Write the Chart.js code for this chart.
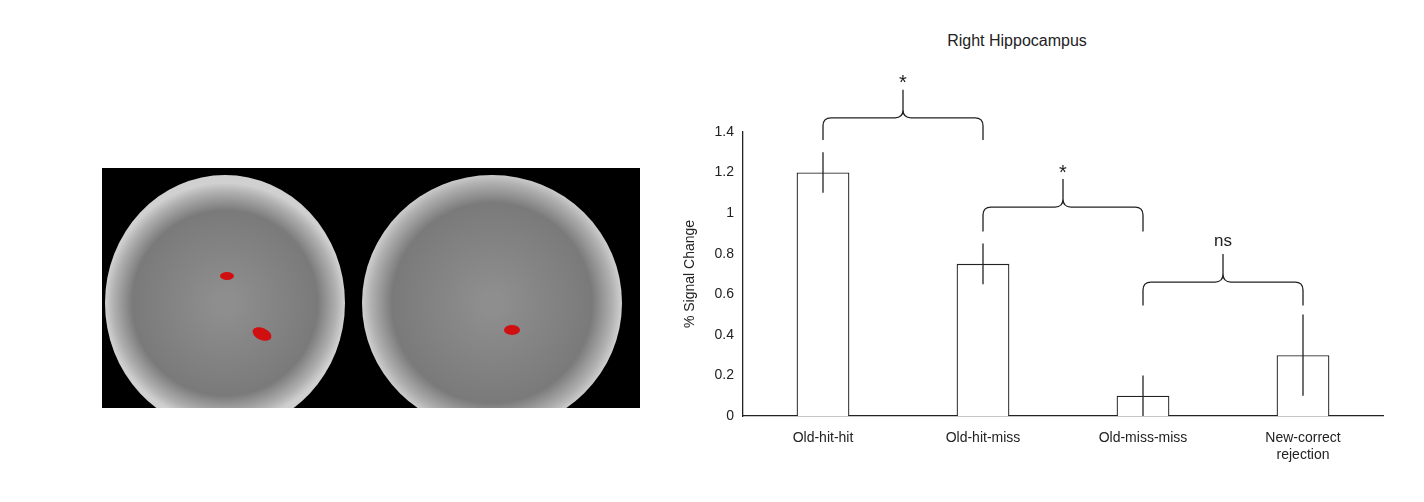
<!DOCTYPE html>
<html>
<head>
<meta charset="utf-8">
<script src="https://cdn.jsdelivr.net/npm/chart.js@4/dist/chart.umd.min.js"></script>
<style>
  body{margin:0;background:#fff;width:1424px;height:502px;position:relative;overflow:hidden;font-family:"Liberation Sans",Arial,sans-serif;}
  #brain{position:absolute;left:102px;top:168px;width:538px;height:240px;background:#000;}
  #title{position:absolute;left:0;width:2034px;top:32px;text-align:center;font-size:16px;color:#222;}
  #wrap{position:absolute;left:670px;top:0;width:720px;height:480px;}
</style>
</head>
<body>
<canvas id="brain" width="538" height="240"></canvas>
<div id="title">Right Hippocampus</div>
<div id="wrap"><canvas id="chart"></canvas></div>
<script>
const categories = [['Old-hit-hit'], ['Old-hit-miss'], ['Old-miss-miss'], ['New-correct', 'rejection']];
const values  = [1.2, 0.75, 0.1, 0.3];
const errLow  = [1.1, 0.65, 0.0, 0.1];
const errHigh = [1.3, 0.85, 0.2, 0.5];
// brackets: from bar, to bar, bar level, tip level, label
const brFrom  = [0, 1, 2];
const brTo    = [1, 2, 3];
const brLevel = [1.47, 1.03, 0.66];
const brTip   = [1.36, 0.91, 0.545];
const brText  = ['*', '*', 'ns'];

// brain slices placeholder
(function(){
  const c = document.getElementById('brain').getContext('2d');
  function slice(cx, cy, rx, ry){
    const g = c.createRadialGradient(cx, cy, 10, cx, cy, rx);
    g.addColorStop(0, '#8e8e8e'); g.addColorStop(0.75, '#7a7a7a'); g.addColorStop(0.92, '#b0b0b0'); g.addColorStop(1, '#d0d0d0');
    c.fillStyle = g;
    c.beginPath(); c.ellipse(cx, cy, rx, ry, 0, 0, Math.PI*2); c.fill();
  }
  slice(123, 135, 120, 128);
  slice(390, 135, 130, 128);
  c.fillStyle = '#d01010';
  c.beginPath(); c.ellipse(160, 166, 10, 6, 0.4, 0, Math.PI*2); c.fill();
  c.beginPath(); c.ellipse(125, 108, 7, 4, 0, 0, Math.PI*2); c.fill();
  c.beginPath(); c.ellipse(410, 162, 8, 5, 0, 0, Math.PI*2); c.fill();
})();

const extras = {
  id: 'extras',
  afterDatasetsDraw(chart){
    const {ctx, scales:{x, y}} = chart;
    ctx.save();
    ctx.strokeStyle = '#222'; ctx.lineWidth = 1.3;
    values.forEach((v, i) => {
      const px = x.getPixelForValue(i);
      ctx.beginPath(); ctx.moveTo(px, y.getPixelForValue(errLow[i])); ctx.lineTo(px, y.getPixelForValue(errHigh[i])); ctx.stroke();
    });
    brFrom.forEach((f, i) => {
      const x1 = x.getPixelForValue(f), x2 = x.getPixelForValue(brTo[i]);
      const yl = y.getPixelForValue(brLevel[i]), yt = y.getPixelForValue(brTip[i]);
      const xm = (x1 + x2) / 2, r = 8, peak = yl - 28;
      ctx.beginPath();
      ctx.moveTo(x1, yt);
      ctx.lineTo(x1, yl + r);
      ctx.quadraticCurveTo(x1, yl, x1 + r, yl);
      ctx.lineTo(xm - r, yl);
      ctx.quadraticCurveTo(xm, yl, xm, yl - r);
      ctx.lineTo(xm, peak);
      ctx.moveTo(xm, yl - r);
      ctx.quadraticCurveTo(xm, yl, xm + r, yl);
      ctx.lineTo(x2 - r, yl);
      ctx.quadraticCurveTo(x2, yl, x2, yl + r);
      ctx.lineTo(x2, yt);
      ctx.stroke();
      ctx.fillStyle = '#222';
      ctx.textAlign = 'center'; ctx.textBaseline = 'bottom';
      ctx.font = brText[i] === '*' ? '20px "Liberation Sans"' : '17px "Liberation Sans"';
      ctx.fillText(brText[i], xm, peak - (brText[i] === '*' ? -4 : 4));
    });
    ctx.restore();
  }
};

new Chart(document.getElementById('chart'), {
  type: 'bar',
  data: { labels: categories, datasets: [{ data: values, backgroundColor: '#fff', borderColor: '#222', borderWidth: 1.3, barPercentage: 0.33, categoryPercentage: 1 }] },
  options: {
    responsive: true, maintainAspectRatio: false, animation: false,
    layout: { padding: { top: 132, right: 7 } },
    plugins: { legend: { display: false }, tooltip: { enabled: false } },
    scales: {
      x: {
        grid: { display: false, drawTicks: false },
        border: { color: '#222', width: 1.3 },
        ticks: { color: '#222', font: { family: 'Liberation Sans', size: 14 }, padding: 14 },
        afterFit: s => { s.height = 64; }
      },
      y: {
        min: 0, max: 1.4,
        grid: { display: false, drawOnChartArea: false, drawTicks: true, tickLength: 5, tickColor: '#222' },
        border: { color: '#222', width: 1.3 },
        ticks: { stepSize: 0.2, color: '#222', font: { family: 'Liberation Sans', size: 14 }, padding: 4, callback: v => String(Math.round(v * 10) / 10) },
        title: { display: true, text: '% Signal Change', color: '#222', font: { family: 'Liberation Sans', size: 14 }, padding: { top: 12, bottom: 2 } },
        afterFit: s => { s.width = 73; }
      }
    }
  },
  plugins: [extras]
});
</script>
</body>
</html>
